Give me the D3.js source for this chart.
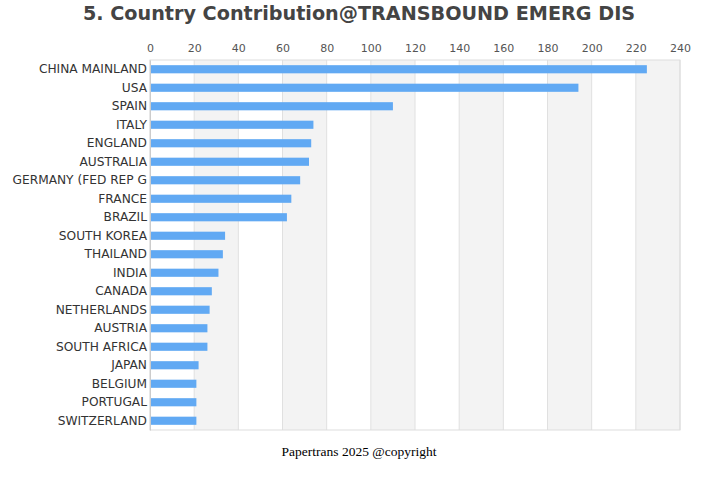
<!DOCTYPE html>
<html>
<head>
<meta charset="utf-8">
<script src="https://cdn.jsdelivr.net/npm/d3@7"></script>
<style>
  html, body { margin: 0; padding: 0; background: #fff; }
  svg { display: block; }
</style>
</head>
<body>
<svg id="chart" width="720" height="480"></svg>
<script>
const categories = ["CHINA MAINLAND","USA","SPAIN","ITALY","ENGLAND","AUSTRALIA","GERMANY (FED REP G","FRANCE","BRAZIL","SOUTH KOREA","THAILAND","INDIA","CANADA","NETHERLANDS","AUSTRIA","SOUTH AFRICA","JAPAN","BELGIUM","PORTUGAL","SWITZERLAND"];
const values = [225,194,110,74,73,72,68,64,62,34,33,31,28,27,26,26,22,21,21,21];
const tickValues = [0,20,40,60,80,100,120,140,160,180,200,220,240];
const titleText = "5. Country Contribution@TRANSBOUND EMERG DIS";
const footerText = "Papertrans 2025 @copyright";

const svg = d3.select("#chart");
const m = {left: 150, right: 40, top: 60, bottom: 50};
const W = 720, H = 480;
const iw = W - m.left - m.right, ih = H - m.top - m.bottom;

const x = d3.scaleLinear().domain([0, 240]).range([0, iw]);
const y = d3.scaleBand().domain(categories).range([0, ih]).paddingInner(0.56).paddingOuter(0.28);

const g = svg.append("g").attr("transform", `translate(${m.left},${m.top})`);

// alternating split areas
const intervals = d3.pairs(tickValues);
g.selectAll("rect.band").data(intervals).enter().append("rect")
  .attr("x", d => x(d[0])).attr("width", d => x(d[1]) - x(d[0]))
  .attr("y", 0).attr("height", ih)
  .attr("fill", (d, i) => i % 2 === 1 ? "#f3f3f3" : "#ffffff");

// grid lines
g.selectAll("line.grid").data(tickValues).enter().append("line")
  .attr("x1", d => x(d)).attr("x2", d => x(d))
  .attr("y1", 0).attr("y2", ih)
  .attr("stroke", "#e0e0e0").attr("stroke-width", 1);

// border
g.append("rect").attr("x", 0).attr("y", 0).attr("width", iw).attr("height", ih)
  .attr("fill", "none").attr("stroke", "#dddddd").attr("stroke-width", 1);

// bars
g.selectAll("rect.bar").data(values).enter().append("rect")
  .attr("x", 0)
  .attr("y", (d, i) => y(categories[i]))
  .attr("width", d => x(d))
  .attr("height", y.bandwidth())
  .attr("fill", "#61a9f3");

// top axis
const xAxis = d3.axisTop(x).tickValues(tickValues).tickSize(0).tickPadding(8);
const ax = g.append("g").call(xAxis);
ax.select(".domain").remove();
ax.selectAll("text").attr("font-family", "DejaVu Sans, sans-serif").attr("font-size", 11).attr("fill", "#555");

// left axis
const yAxis = d3.axisLeft(y).tickSize(0).tickPadding(3);
const ay = g.append("g").call(yAxis);
ay.select(".domain").attr("stroke", "#cccccc");
ay.selectAll("text").attr("font-family", "DejaVu Sans, sans-serif").attr("font-size", 12.2).attr("fill", "#333");

// title
svg.append("text").attr("x", 359).attr("y", 20).attr("text-anchor", "middle")
  .attr("font-family", "DejaVu Sans, sans-serif").attr("font-weight", "bold")
  .attr("font-size", 19.2).attr("fill", "#444").text(titleText);

// footer
svg.append("text").attr("x", 359).attr("y", 456).attr("text-anchor", "middle")
  .attr("font-family", "Liberation Serif, Times New Roman, serif")
  .attr("font-size", 13.5).attr("fill", "#000").text(footerText);
</script>
</body>
</html>
